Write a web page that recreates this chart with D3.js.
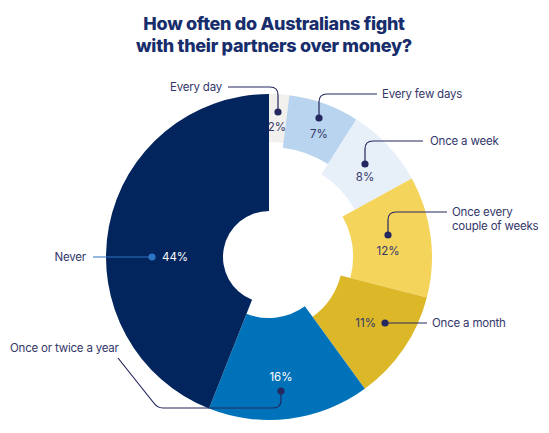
<!DOCTYPE html>
<html><head><meta charset="utf-8">
<script src="https://cdn.jsdelivr.net/npm/d3@7"></script>
<style>
html,body{margin:0;padding:0;background:#fff;}
svg{display:block;font-family:Inter,"Noto Sans",sans-serif;}
</style></head>
<body><svg id="c" width="549" height="433"></svg>
<script>
const categories = ["Every day","Every few days","Once a week","Once every couple of weeks","Once a month","Once or twice a year","Never"];
const values = [2,7,8,12,11,16,44];
const titleLines = ["How often do Australians fight","with their partners over money?"];

const colors = ["#f1f0ec","#b9d4ee","#e7f0f9","#f5d45c","#dcb829","#0072ba","#03255d"];
const innerRadii = [115,110,98,84,74,61,46];
const cx = 269, cy = 257, outerR = 163;
const textCol = "#34376b", lineCol = "#24285e";

const svg = d3.select("#c");
svg.append("g").selectAll("text").data(titleLines).join("text")
  .attr("x", 274).attr("y",(d,i)=>30+i*22).attr("text-anchor","middle")
  .attr("font-size",18).attr("font-weight",800).attr("fill","#172d6c")
  .attr("letter-spacing","-0.3").text(d=>d);

const data = categories.map((c,i)=>({cat:c,value:values[i],i}));
const pie = d3.pie().value(d=>d.value).sort(null);
const arcs = pie(data);
const g = svg.append("g").attr("transform",`translate(${cx},${cy})`);
g.selectAll("path").data(arcs).join("path")
  .attr("d",d=>d3.arc().innerRadius(innerRadii[d.index]).outerRadius(outerR)(d))
  .attr("fill",d=>colors[d.index]);

// helper: point at angle/radius relative to center
function pt(a,r){return [cx+r*Math.sin(a), cy-r*Math.cos(a)];}
const mid = d=>(d.startAngle+d.endAngle)/2;

// label configurations (dot radius fraction, pct offset, label placement)
const cfg = [
  {dotR:0.5, pctDy:15, type:"upLeft", hy:87, hx:228, lx:222, anchor:"end"},
  {dotR:0.5, pctDy:16, type:"upRight", hy:94, hx:377, lx:382, anchor:"start"},
  {dotR:0.5, pctDy:13, type:"upRight", hy:141, hx:423, lx:430, anchor:"start"},
  {dotR:0.5, pctDy:16, type:"upRight", hy:212, hx:447, lx:452, anchor:"start"},
  {dotR:0.5, pctDx:-15, type:"right", hx:427, lx:432, anchor:"start"},
  {dotR:0.5, pctDy:-14, type:"year"},
  {dotR:0.5, pctDx:23, type:"left", hx:93, lx:86, anchor:"end"}
];
const dotPos = [[278,112],[319,118],[365,164],[388,235],[385,323],[281,391],[152,257]];

const lg = svg.append("g");
arcs.forEach((d,i)=>{
  const c = cfg[i];
  const [dx,dy] = dotPos[i];
  let path = d3.path();
  const rr = 8;
  if(c.type==="upRight"){
    path.moveTo(dx,dy); path.lineTo(dx,c.hy+rr);
    path.quadraticCurveTo(dx,c.hy,dx+rr,c.hy); path.lineTo(c.hx,c.hy);
  } else if(c.type==="upLeft"){
    path.moveTo(dx,dy); path.lineTo(dx,c.hy+rr);
    path.quadraticCurveTo(dx,c.hy,dx-rr,c.hy); path.lineTo(c.hx,c.hy);
  } else if(c.type==="right"){
    path.moveTo(dx,dy); path.lineTo(c.hx,dy);
  } else if(c.type==="left"){
    path.moveTo(dx,dy); path.lineTo(c.hx,dy);
  } else if(c.type==="year"){
    path.moveTo(dx,dy); path.lineTo(dx,400);
    path.quadraticCurveTo(dx,408,dx-8,408); path.lineTo(163,408);
    path.quadraticCurveTo(157,408,153,402); path.lineTo(118,358);
  }
  lg.append("path").attr("d",path.toString()).attr("fill","none")
    .attr("stroke", i===6?"#2e74c4":lineCol).attr("stroke-width",1.2);
  lg.append("circle").attr("cx",dx).attr("cy",dy).attr("r",3.6)
    .attr("fill", i===6?"#2e74c4":lineCol);
  // percentage
  const white = i>=5;
  let px=dx, py=dy, anchor="middle";
  if(c.pctDy!==undefined){py=dy+c.pctDy;}
  if(c.pctDx!==undefined){px=dx+c.pctDx; anchor = c.pctDx<0?"end":"start"; if(c.pctDx>0) px=dx+10; else px=dx-9;}
  lg.append("text").attr("x",i===0?dx-1:px).attr("y",py).attr("dy","0.36em")
    .attr("text-anchor",anchor).attr("font-size",11.5)
    .attr("fill",white?"#ffffff":textCol).text(values[i]+"%");
  // category label
  if(c.type==="year"){
    lg.append("text").attr("x",10).attr("y",348).attr("dy","0.36em")
      .attr("font-size",11.5).attr("fill",textCol).attr("letter-spacing","-0.2").text(categories[i]);
  } else if(i===3){
    const t = lg.append("text").attr("x",c.lx).attr("y",c.hy).attr("dy","0.36em")
      .attr("font-size",11.5).attr("fill",textCol).attr("letter-spacing","-0.2");
    t.append("tspan").attr("x",c.lx).text("Once every");
    t.append("tspan").attr("x",c.lx).attr("dy","1.2em").text("couple of weeks");
  } else {
    const ly = (c.type==="right"||c.type==="left")?dy:c.hy;
    lg.append("text").attr("x",c.lx).attr("y",ly).attr("dy","0.36em")
      .attr("text-anchor",c.anchor).attr("font-size",11.5).attr("fill",textCol)
      .attr("letter-spacing","-0.2").text(categories[i]);
  }
});
</script></body></html>
